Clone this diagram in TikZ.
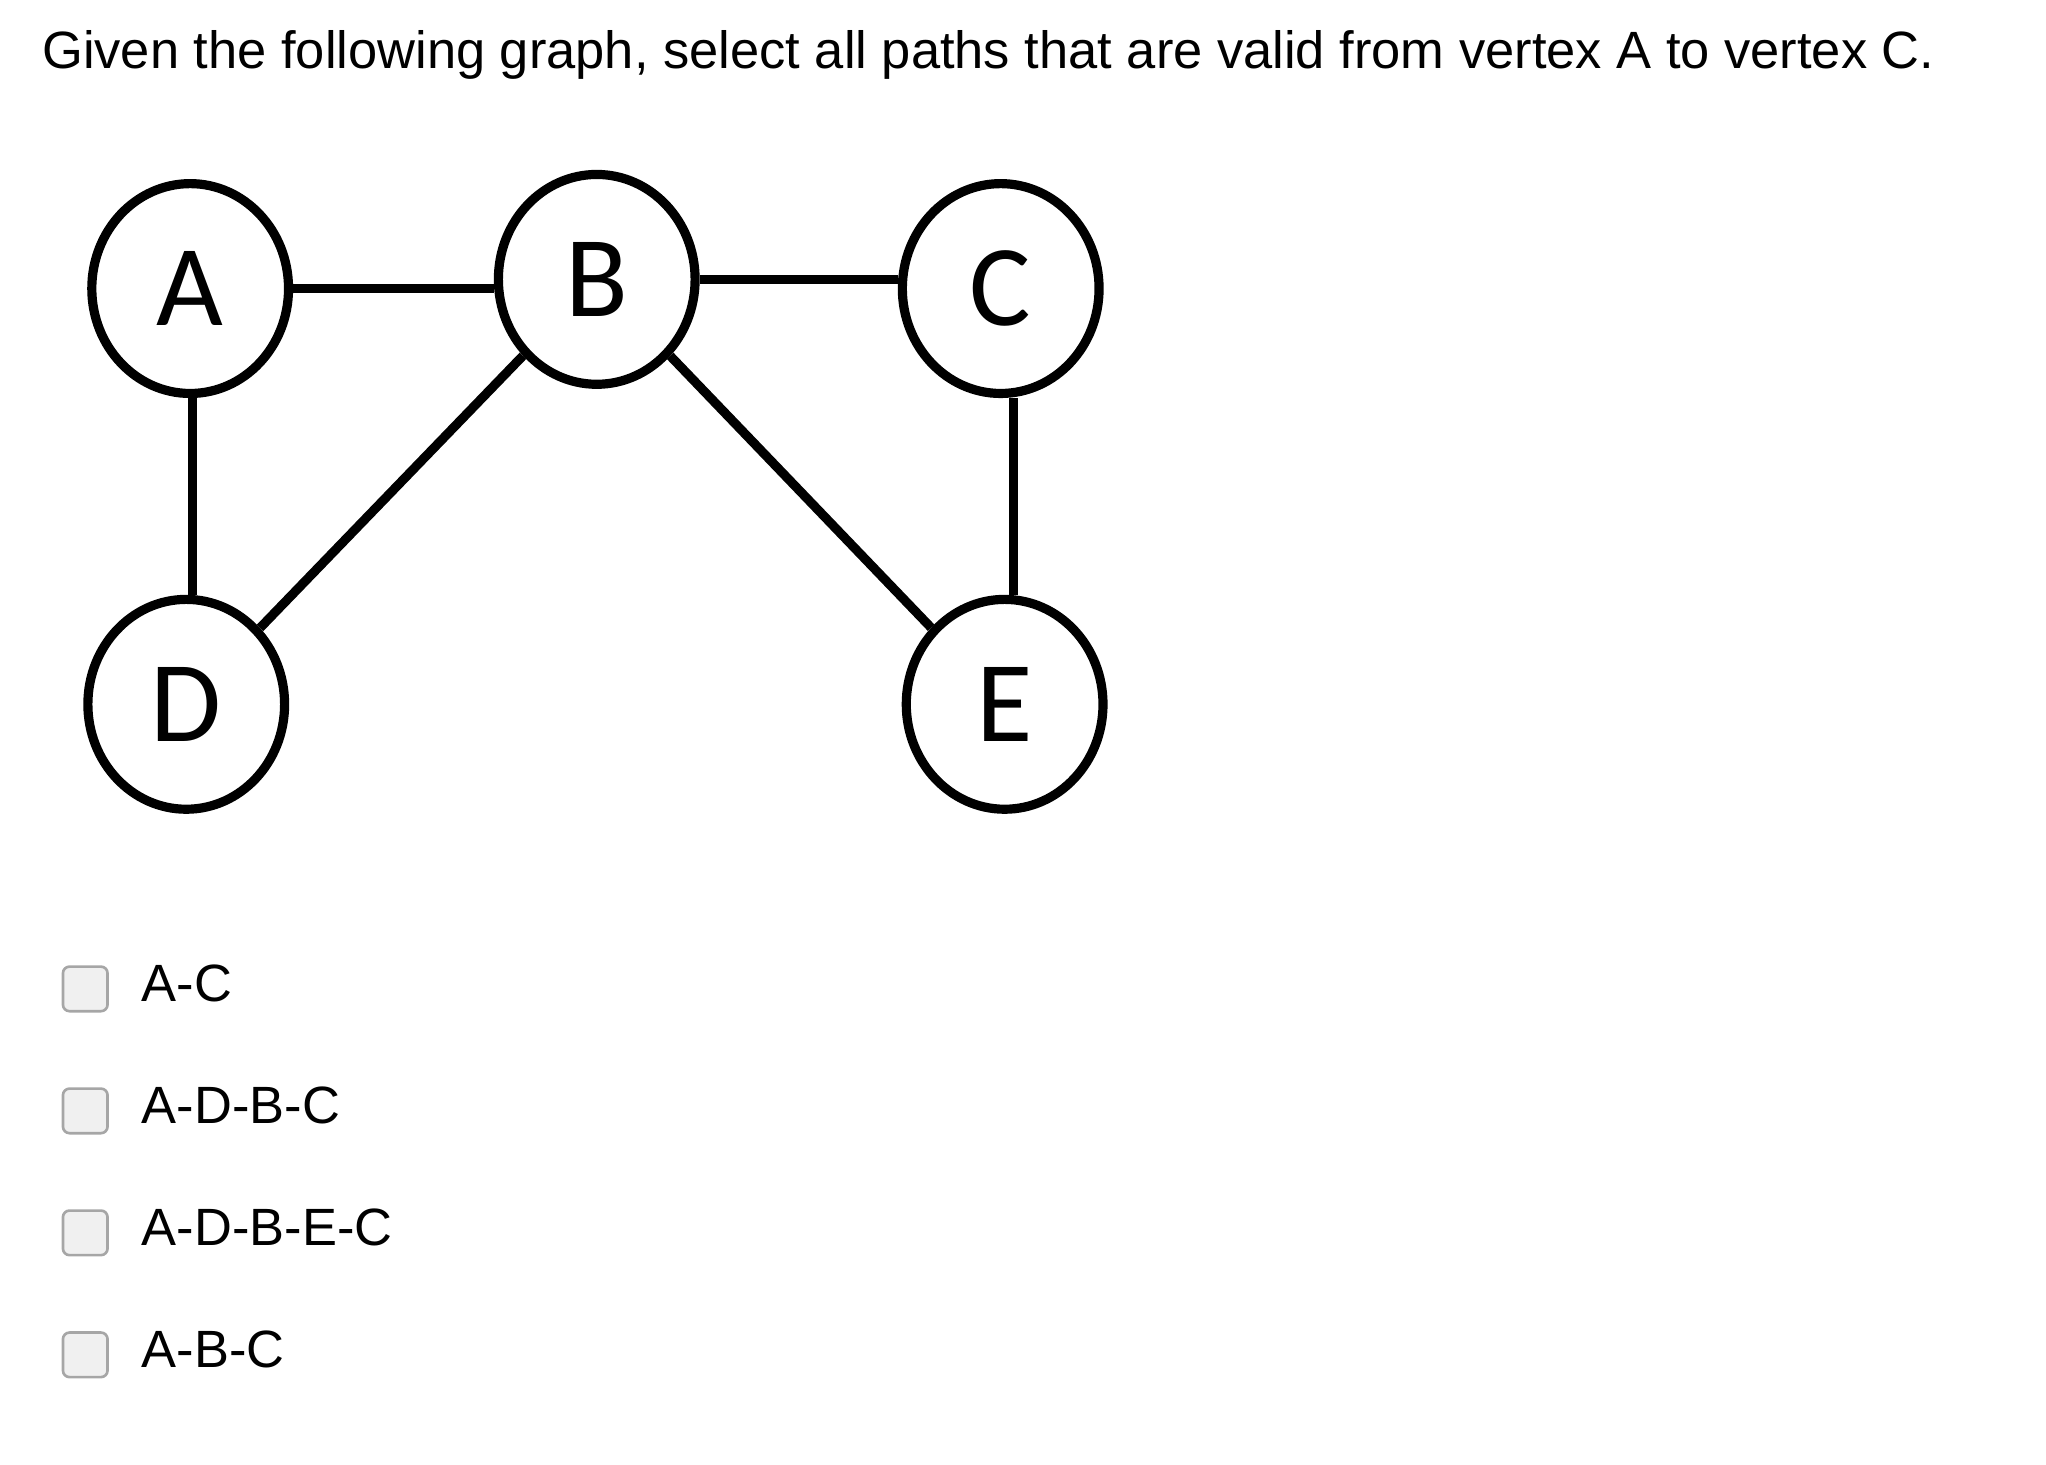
\documentclass[tikz,border=0pt]{standalone}
\usepackage{fontspec}
\setmainfont{Liberation Sans}
\newfontfamily\lettfont{Carlito}
\usetikzlibrary{shapes.geometric}
\begin{document}
\begin{tikzpicture}[x=1pt,y=-1pt,
  vert/.style={draw,line width=7pt,ellipse,minimum width=150pt,minimum height=160pt,inner sep=0pt,font=\lettfont\fontsize{88}{88}\selectfont},
  edge/.style={line width=7pt},
  cbox/.style={draw=gray!70,fill=gray!12,rounded corners=5pt,line width=2pt,minimum width=34pt,minimum height=34pt,inner sep=0pt},
  opt/.style={anchor=west,font=\fontsize{40}{40}\selectfont,inner sep=0pt}]
\path[use as bounding box] (0,0) rectangle (1560,1117);
\node[anchor=base west,inner sep=0pt,font=\fontsize{40}{40}\selectfont] (q) at (32,52) {Given the following graph, select all paths that are valid from vertex A to vertex C.};
\node[vert] (A) at (145,220) {A};
\node[vert] (B) at (455,213) {B};
\node[vert] (C) at (763,220) {C};
\node[vert] (D) at (142,537) {D};
\node[vert] (E) at (766,537) {E};
\draw[edge] (A.east) -- (A.east -| B.west);
\draw[edge] (B.east) -- (B.east -| C.west);
\draw[edge] (A.south) ++(2,0) coordinate (as) -- (as |- D.north);
\draw[edge] (B) -- (D);
\draw[edge] (B) -- (E);
\draw[edge] (C.south) ++(10,0) coordinate (cs) -- (cs |- E.north);
\foreach \i/\t [count=\n] in {750/A-C,843/A-D-B-C,936/A-D-B-E-C,1029/A-B-C}{
  \node[cbox] (b\n) at (65,\i+4) {};
  \node[opt] (t\n) at (108,\i) {\t};
}
\end{tikzpicture}
\end{document}
